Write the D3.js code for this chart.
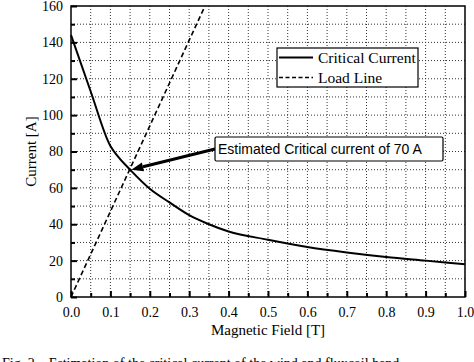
<!DOCTYPE html>
<html>
<head>
<meta charset="utf-8">
<script src="https://cdn.jsdelivr.net/npm/d3@7"></script>
<style>
  body { margin: 0; background: #fff; }
  svg { display: block; }
</style>
</head>
<body>
<div id="chart"></div>
<script>
// 読み取ったデータ
const fieldT = [0, 0.05, 0.1, 0.12, 0.15, 0.2, 0.25, 0.3, 0.35, 0.4, 0.5, 0.6, 0.7, 0.8, 0.9, 1.0];
const criticalA = [144, 113, 83, 77, 70, 59.5, 52, 45, 40, 36, 31.5, 27.5, 24.5, 22, 20, 18];
const loadField = [0, 0.34];
const loadA = [0, 160];
const xTicks = [0, 0.1, 0.2, 0.3, 0.4, 0.5, 0.6, 0.7, 0.8, 0.9, 1.0];
const yTicks = [0, 20, 40, 60, 80, 100, 120, 140, 160];
const pointField = 0.153;
const pointA = 70;

function chart() {
  const W = 474, H = 362;
  const margin = { top: 6, right: 9, bottom: 65, left: 71 };
  const width = W - margin.left - margin.right;
  const height = H - margin.top - margin.bottom;
  const serif = "'Liberation Serif', 'Times New Roman', serif";

  const svg = d3.select("#chart").append("svg")
    .attr("width", W).attr("height", H);
  const g = svg.append("g")
    .attr("transform", `translate(${margin.left},${margin.top})`);

  const x = d3.scaleLinear().domain([0, 1]).range([0, width]);
  const y = d3.scaleLinear().domain([0, 160]).range([height, 0]);

  // グリッド（点線）
  const gx = d3.range(0.05, 1.0, 0.05);
  const gy = d3.range(10, 160, 10);
  g.selectAll(".gx").data(gx).enter().append("line")
    .attr("x1", d => x(d)).attr("x2", d => x(d))
    .attr("y1", 0).attr("y2", height)
    .attr("stroke", "#333").attr("stroke-width", 1)
    .attr("stroke-dasharray", "1,2");
  g.selectAll(".gy").data(gy).enter().append("line")
    .attr("y1", d => y(d)).attr("y2", d => y(d))
    .attr("x1", 0).attr("x2", width)
    .attr("stroke", "#333").attr("stroke-width", 1)
    .attr("stroke-dasharray", "1,2");

  // 軸（内向き目盛り）
  const xAxis = g.append("g").attr("transform", `translate(0,${height})`)
    .call(d3.axisBottom(x).tickValues(xTicks).tickSizeInner(-6).tickSizeOuter(0)
      .tickPadding(10).tickFormat(d3.format(".1f")));
  const xMinor = g.append("g").attr("transform", `translate(0,${height})`)
    .call(d3.axisBottom(x).tickValues(d3.range(0.05, 1, 0.1)).tickSizeInner(-4).tickSizeOuter(0).tickFormat(""));
  const yAxis = g.append("g")
    .call(d3.axisLeft(y).tickValues(yTicks).tickSizeInner(-6).tickSizeOuter(0).tickPadding(8));
  const yMinor = g.append("g")
    .call(d3.axisLeft(y).tickValues(d3.range(10, 160, 20)).tickSizeInner(-4).tickSizeOuter(0).tickFormat(""));
  [xAxis, xMinor, yAxis, yMinor].forEach(a => {
    a.select(".domain").remove();
    a.selectAll("line").attr("stroke", "#000").attr("stroke-width", 2);
    a.selectAll("text").attr("fill", "#000").style("font-family", serif).style("font-size", "14px");
  });

  // 枠
  g.append("rect").attr("width", width).attr("height", height)
    .attr("fill", "none").attr("stroke", "#000").attr("stroke-width", 1.5);

  // 臨界電流
  const line = d3.line().x(d => x(d[0])).y(d => y(d[1])).curve(d3.curveMonotoneX);
  g.append("path")
    .datum(fieldT.map((f, i) => [f, criticalA[i]]))
    .attr("d", line)
    .attr("fill", "none").attr("stroke", "#000").attr("stroke-width", 2);

  // 負荷線
  g.append("path")
    .datum(loadField.map((f, i) => [f, loadA[i]]))
    .attr("d", d3.line().x(d => x(d[0])).y(d => y(d[1])))
    .attr("fill", "none").attr("stroke", "#000").attr("stroke-width", 1.6)
    .attr("stroke-dasharray", "5,3");

  // 凡例
  const lg = svg.append("g").attr("transform", "translate(277,48)");
  lg.append("rect").attr("width", 141).attr("height", 39)
    .attr("fill", "#fff").attr("stroke", "#000").attr("stroke-width", 1.2);
  lg.append("line").attr("x1", 2).attr("x2", 36).attr("y1", 9.5).attr("y2", 9.5)
    .attr("stroke", "#000").attr("stroke-width", 2);
  lg.append("line").attr("x1", 2).attr("x2", 36).attr("y1", 29.5).attr("y2", 29.5)
    .attr("stroke", "#000").attr("stroke-width", 1.5).attr("stroke-dasharray", "4,2.5");
  lg.append("text").attr("x", 41).attr("y", 15).text("Critical Current")
    .style("font-family", serif).style("font-size", "15.5px");
  lg.append("text").attr("x", 41).attr("y", 35).text("Load Line")
    .style("font-family", serif).style("font-size", "15.5px");

  // 注釈と矢印
  const bx = 215, by = 137;
  const px = margin.left + x(pointField), py = margin.top + y(pointA);
  const sx = bx, sy = by + 12;
  const ang = Math.atan2(py - sy, px - sx);
  const hl = 12, hw = 4.5;
  const ex = px - hl * Math.cos(ang), ey = py - hl * Math.sin(ang);
  svg.append("line").attr("x1", sx).attr("y1", sy).attr("x2", ex).attr("y2", ey)
    .attr("stroke", "#000").attr("stroke-width", 3);
  svg.append("path")
    .attr("d", `M${px},${py} L${ex + hw * Math.sin(ang)},${ey - hw * Math.cos(ang)} L${ex - hw * Math.sin(ang)},${ey + hw * Math.cos(ang)} Z`)
    .attr("fill", "#000");
  svg.append("rect").attr("x", bx).attr("y", by).attr("width", 228).attr("height", 24)
    .attr("fill", "#fff").attr("stroke", "#000").attr("stroke-width", 1.2).attr("rx", 1.5);
  svg.append("text").attr("x", bx + 3).attr("y", by + 17)
    .style("font-family", "'Liberation Sans', Arial, sans-serif").style("font-size", "14px")
    .text("Estimated Critical current of 70 A");

  // 軸ラベル
  svg.append("text").attr("x", margin.left + width / 2).attr("y", 335)
    .attr("text-anchor", "middle")
    .style("font-family", serif).style("font-size", "15px")
    .text("Magnetic Field [T]");
  svg.append("text")
    .attr("transform", `translate(36,${margin.top + height / 2}) rotate(-90)`)
    .attr("text-anchor", "middle")
    .style("font-family", serif).style("font-size", "15px")
    .text("Current [A]");

  // キャプション（下端で切れている）
  svg.append("text").attr("x", 2).attr("y", 368)
    .style("font-family", serif).style("font-size", "14px")
    .attr("xml:space", "preserve")
    .text("Fig. 2.   Estimation of the critical current of the wind and fluxcoil band");
}

chart();
</script>
</body>
</html>
